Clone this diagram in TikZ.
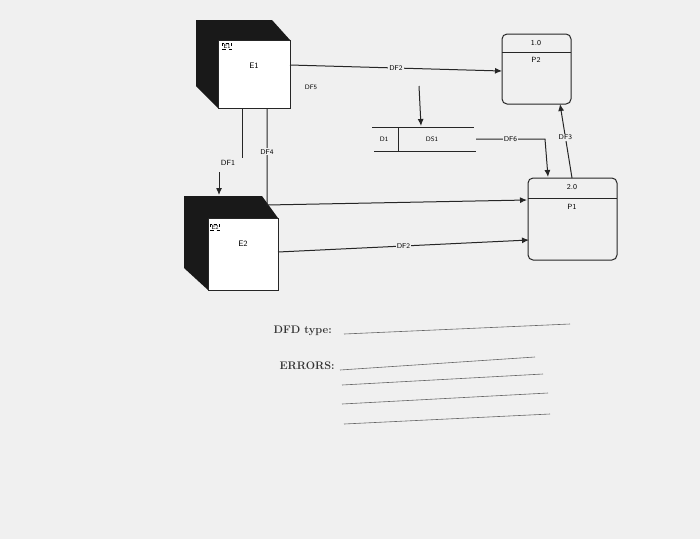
\documentclass[tikz,border=0pt]{standalone}
\usetikzlibrary{arrows.meta}
\begin{document}
\begin{tikzpicture}[x=1pt,y=-1pt,
  flow/.style={draw=black!85,line width=1pt},
  arr/.style={flow,-{Latex[length=7pt,width=6pt]}},
  lbl/.style={font=\sffamily\fontsize{7}{7}\selectfont,fill=black!6,inner sep=1pt},
  proc/.style={draw=black!85,line width=1pt,rounded corners=5pt},
  ttl/.style={font=\bfseries\fontsize{11}{11}\selectfont,text=black!80}]
\fill[black!6] (0,0) rectangle (700,539);
\useasboundingbox (0,0) rectangle (700,539);
% E1
\fill[black!90] (196,20)--(272,20)--(290,40)--(218,108)--(196,86)--cycle;
\node[draw=black!85,fill=white,line width=1pt,minimum width=72pt,minimum height=68pt,inner sep=0] (e1) at (254,74) {};
\node[font=\sffamily\fontsize{8}{8}\selectfont] (e1t) at (254,66) {E1};
\node[draw,dashed,font=\sffamily\fontsize{6}{6}\selectfont,inner sep=1pt] (e1s) at (227,46) {E1};
% E2
\fill[black!90] (184,196)--(262,196)--(278,218)--(208,290)--(184,268)--cycle;
\node[draw=black!85,fill=white,line width=1pt,minimum width=70pt,minimum height=72pt,inner sep=0] (e2) at (243,254) {};
\node[font=\sffamily\fontsize{8}{8}\selectfont] (e2t) at (243,244) {E2};
\node[draw,dashed,font=\sffamily\fontsize{6}{6}\selectfont,inner sep=1pt] (e2s) at (215,227) {E2};
% P2
\draw[proc] (502,34) rectangle (571,104);
\draw[flow] (502,52)--(571,52);
\node[font=\sffamily\fontsize{7.5}{7.5}\selectfont] (p2n) at (536,43) {1.0};
\node[font=\sffamily\fontsize{7.5}{7.5}\selectfont] (p2) at (536,60) {P2};
\coordinate (p2b) at (560,104);
\coordinate (p2l) at (502,71);
% P1
\draw[proc] (528,178) rectangle (617,260);
\draw[flow] (528,198)--(617,198);
\node[font=\sffamily\fontsize{7.5}{7.5}\selectfont] (p1n) at (572,187) {2.0};
\node[font=\sffamily\fontsize{7.5}{7.5}\selectfont] (p1) at (572,207) {P1};
% data store
\draw[flow] (372,127)--(474,127);
\draw[flow] (374,151)--(476,151);
\draw[flow] (398,127)--(398,151);
\node[font=\sffamily\fontsize{6.5}{6.5}\selectfont] (d1) at (384,139) {D1};
\node[font=\sffamily\fontsize{6.5}{6.5}\selectfont] (ds1) at (432,139) {DS1};
% flows
\coordinate (a1) at (290,65);
\draw[arr] (a1) -- node[lbl]{DF2} (p2l);
\coordinate (a2) at (419,86);
\draw[arr] (a2) -- (421,126);
\node[font=\sffamily\fontsize{6.5}{6.5}\selectfont] (df5) at (311,87) {DF5};
\coordinate (a3) at (476,139);
\draw[arr] (a3) -- node[lbl]{DF6} (545,139) -- (548,177);
\coordinate (a4) at (572,178);
\draw[arr] (a4) -- node[lbl,pos=0.55]{DF3} (p2b);
\coordinate (a5) at (242,108);
\draw[flow] (a5) -- (242,158);
\node[font=\sffamily\fontsize{7.5}{7.5}\selectfont] (df1) at (228,163) {DF1};
\coordinate (a6) at (219,172);
\draw[arr] (a6) -- (219,195);
\coordinate (a7) at (267,108);
\draw[arr] (a7) -- node[lbl,pos=0.45]{DF4} (267,205) -- (527,200);
\coordinate (a8) at (278,252);
\draw[arr] (a8) -- node[lbl]{DF2} (529,240);
% text
\node[ttl,anchor=west] (t1) at (270,331) {DFD type:};
\draw[black!60,line width=0.6pt] (344,334)--(570,324);
\node[ttl,anchor=west] (t2) at (276,366) {ERRORS:};
\draw[black!60,line width=0.6pt] (340,370)--(535,357);
\draw[black!60,line width=0.6pt] (342,385)--(543,374);
\draw[black!60,line width=0.6pt] (342,404)--(548,393);
\draw[black!60,line width=0.6pt] (344,424)--(550,414);
\end{tikzpicture}
\end{document}
